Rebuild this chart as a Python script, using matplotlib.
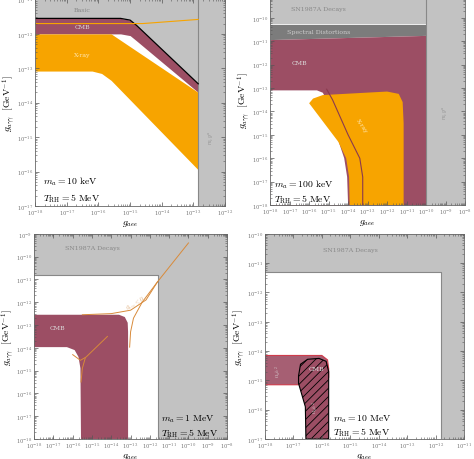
import numpy as np
import matplotlib
matplotlib.use("Agg")
import matplotlib.pyplot as plt
from matplotlib.ticker import LogLocator, NullFormatter

plt.rcParams['mathtext.fontset'] = 'cm'
plt.rcParams['font.family'] = ['DejaVu Serif']
plt.rcParams['hatch.linewidth'] = 0.6

GRAY = '#c2c2c2'; DGRAY = '#7c7c7c'; PURP = '#9c4e64'; ORNG = '#f7a400'

# ---------- data (log10 values) ----------
# Panel 1 (m_a = 10 keV)
p1_x = [-18, -15.3, -15.0, -14.8, -12.85]
p1_top = [-11.55, -11.55, -11.6, -11.75, -13.45]
p1_cmb_bot = [-12.0, -12.0, -12.05, -12.2, -13.7]
p1_xr_x = [-18, -16.2, -15.9, -15.6, -12.85]
p1_xr_bot = [-13.08, -13.08, -13.15, -13.35, -15.95]
p1_line_x = [-18, -14.6, -12.85]
p1_line_y = [-11.7, -11.7, -11.58]
p1_vcut = -12.85

# Panel 2 (m_a = 100 keV)
p2_sn = -10.28
p2_sd_x = [-18, -10]; p2_sd_y = [-10.93, -10.75]
p2_vcut = -10.0
p2_white = [(-18, -13.1), (-15.6, -13.1), (-15.3, -13.2), (-15.1, -13.5), (-14.6, -15.0),
            (-14.2, -16.0), (-14.05, -16.8), (-14.0, -18), (-18, -18)]
p2_xray = [(-16.0, -13.65), (-15.8, -13.45), (-15.3, -13.3), (-12.0, -13.15), (-11.4, -13.25),
           (-11.2, -13.6), (-11.15, -14.5), (-11.15, -18), (-13.92, -18), (-13.95, -16.8),
           (-14.1, -16.0), (-14.5, -15.3)]
p2_line = [(-15.1, -13.05), (-14.8, -13.5), (-14.0, -15.0), (-13.4, -16.0), (-13.25, -16.8), (-13.25, -18)]

# Panel 3 (m_a = 1 MeV)
p3_sn = -10.8
p3_vcut = -11.6
p3_cmb = [(-18, -12.55), (-13.6, -12.55), (-13.3, -12.65), (-13.15, -12.9), (-13.13, -13.3),
          (-13.13, -18), (-15.57, -18), (-15.6, -14.9), (-15.7, -14.4), (-15.9, -14.1),
          (-16.3, -13.97), (-18, -13.97)]
p3_lineA = [(-15.5, -12.55), (-14.0, -12.5), (-13.0, -12.35), (-12.2, -11.9), (-11.6, -11.1), (-10.0, -9.4)]
p3_lineB = [(-13.05, -13.97), (-13.0, -13.3), (-12.85, -12.7), (-12.4, -12.0), (-11.6, -11.1)]
p3_lineC = [(-16.0, -14.3), (-15.6, -14.55), (-15.3, -14.4), (-14.2, -13.5)]
p3_lineD = [(-15.35, -14.45), (-15.5, -14.9), (-15.57, -15.5)]

# Panel 4 (m_a = 10 MeV)
p4_sn = -11.31
p4_vcut = -11.82
p4_box = [(-18, -14.15), (-16.0, -14.15), (-15.8, -14.3), (-15.76, -14.6), (-15.76, -14.9),
          (-15.85, -15.1), (-16.0, -15.15), (-18, -15.15)]
p4_hatch = [(-16.82, -14.85), (-16.75, -14.45), (-16.5, -14.28), (-16.1, -14.25), (-15.85, -14.35),
            (-15.76, -14.7), (-15.76, -17), (-16.56, -17), (-16.58, -15.9), (-16.7, -15.5), (-16.82, -15.1)]


def P(pts):
    a = np.array(pts, float)
    return 10 ** a[:, 0], 10 ** a[:, 1]


def E(v):
    return 10 ** np.array(v, float)


def setup(ax, xl, yl):
    ax.set_xscale('log'); ax.set_yscale('log')
    ax.set_xlim(10 ** xl[0], 10 ** xl[1]); ax.set_ylim(10 ** yl[0], 10 ** yl[1])
    ax.xaxis.set_major_locator(LogLocator(base=10, numticks=20))
    ax.yaxis.set_major_locator(LogLocator(base=10, numticks=20))
    ax.xaxis.set_minor_locator(LogLocator(base=10, subs=np.arange(2, 10), numticks=200))
    ax.yaxis.set_minor_locator(LogLocator(base=10, subs=np.arange(2, 10), numticks=200))
    ax.xaxis.set_minor_formatter(NullFormatter()); ax.yaxis.set_minor_formatter(NullFormatter())
    ax.tick_params(which='both', direction='in', top=True, right=True, labelsize=3.8,
                   colors='#555555', labelcolor='#777777', pad=1.5)
    ax.tick_params(which='major', length=3, width=0.5)
    ax.tick_params(which='minor', length=1.5, width=0.4)
    for s in ax.spines.values():
        s.set_linewidth(0.6); s.set_color('#666666')
    ax.set_xlabel(r'$g_{aee}$', fontsize=7, labelpad=0.5)
    ax.set_ylabel(r'$g_{a\gamma\gamma}\ \ [\mathrm{GeV}^{-1}]$', fontsize=7, labelpad=0)
    ax.set_zorder(1)


fig = plt.figure(figsize=(4.74, 4.6), dpi=100)
ax1 = fig.add_axes([0.074, 0.55, 0.401, 0.449])
ax2 = fig.add_axes([0.570, 0.552, 0.411, 0.458])
ax3 = fig.add_axes([0.072, 0.0435, 0.407, 0.446])
ax4 = fig.add_axes([0.559, 0.0435, 0.420, 0.446])

# ---- panel 1
ax = ax1
setup(ax, (-18, -12), (-17, -11))
ax.fill_between(E(p1_x), E(p1_top), 1e-11, color=GRAY, lw=0)
ax.axvspan(10 ** p1_vcut, 1e-12, color=GRAY, lw=0)
ax.axvline(10 ** p1_vcut, color='#888888', lw=0.8)
ax.fill_between(E(p1_x), E(p1_cmb_bot), E(p1_top), color=PURP, lw=0)
ax.plot(E(p1_x), E(p1_top), color='black', lw=0.9)
ax.fill_between(E(p1_xr_x), E(p1_xr_bot), 10 ** np.interp(p1_xr_x, p1_x, p1_cmb_bot), color=ORNG, lw=0)
ax.plot(E(p1_line_x), E(p1_line_y), color=ORNG, lw=0.8)
ax.text(10 ** -16.5, 10 ** -11.3, 'Basic', color='#888888', fontsize=4.5, ha='center', va='center')
ax.text(10 ** -16.5, 10 ** -11.8, 'CMB', color='#dddddd', fontsize=4.5, ha='center', va='center')
ax.text(10 ** -16.5, 10 ** -12.6, 'X-ray', color='#ffe6b0', fontsize=4.5, ha='center', va='center')
ax.text(10 ** -12.45, 10 ** -15.0, r'$m_e y^a$', color='#888888', fontsize=4, rotation=90, ha='center', va='center')
ax.text(10 ** -17.75, 10 ** -16.35, r'$m_a = 10\ \mathrm{keV}$', fontsize=7)
ax.text(10 ** -17.75, 10 ** -16.85, r'$T_\mathrm{RH} = 5\ \mathrm{MeV}$', fontsize=7)

# ---- panel 2
ax = ax2
setup(ax, (-18, -8), (-18, -9))
ax.fill_between(E([-18, -10]), 10 ** p2_sn, 1e-9, color=GRAY, lw=0)
ax.axvspan(10 ** p2_vcut, 1e-8, color=GRAY, lw=0)
ax.axvline(10 ** p2_vcut, color='#888888', lw=0.8)
ax.fill_between(E(p2_sd_x), E(p2_sd_y), 10 ** p2_sn, color=DGRAY, lw=0)
ax.fill_between(E(p2_sd_x), 1e-18, E(p2_sd_y), color=PURP, lw=0)
x, y = P(p2_white); ax.fill(x, y, color='white', lw=0)
x, y = P(p2_xray); ax.fill(x, y, color=ORNG, lw=0)
x, y = P(p2_line); ax.plot(x, y, color='#8a3a4e', lw=0.8)
ax.text(10 ** -15.5, 10 ** -9.6, 'SN1987A Decays', color='#888888', fontsize=4.5, ha='center', va='center')
ax.text(10 ** -15.5, 10 ** -10.6, 'Spectral Distortions', color='#cccccc', fontsize=4.5, ha='center', va='center')
ax.text(10 ** -16.5, 10 ** -11.9, 'CMB', color='#dddddd', fontsize=4.5, ha='center', va='center')
ax.text(10 ** -13.3, 10 ** -14.6, 'X-ray', color='#ffe6b0', fontsize=4.5, ha='center', va='center', rotation=-55)
ax.text(10 ** -9.0, 10 ** -14.0, r'$m_e y^a$', color='#888888', fontsize=4, rotation=90, ha='center', va='center')
ax.text(10 ** -17.8, 10 ** -17.2, r'$m_a = 100\ \mathrm{keV}$', fontsize=7)
ax.text(10 ** -17.8, 10 ** -17.85, r'$T_\mathrm{RH} = 5\ \mathrm{MeV}$', fontsize=7)

# ---- panel 3
ax = ax3
setup(ax, (-18, -8), (-18, -9))
ax.axhspan(10 ** p3_sn, 1e-9, color=GRAY, lw=0)
ax.axvspan(10 ** p3_vcut, 1e-8, color=GRAY, lw=0)
ax.plot([1e-18, 10 ** p3_vcut, 10 ** p3_vcut], [10 ** p3_sn, 10 ** p3_sn, 1e-18], color='#888888', lw=0.8)
x, y = P(p3_cmb); ax.fill(x, y, color=PURP, lw=0)
for L in (p3_lineA, p3_lineB, p3_lineC, p3_lineD):
    x, y = P(L); ax.plot(x, y, color='#d88a3a', lw=0.7)
ax.text(10 ** -12.75, 10 ** -12.05, r'$g_{aee} < 0$', color='#e0b080', fontsize=4.5, rotation=25, ha='center', va='center')
ax.text(10 ** -15.0, 10 ** -9.6, 'SN1987A Decays', color='#888888', fontsize=4.5, ha='center', va='center')
ax.text(10 ** -16.8, 10 ** -13.1, 'CMB', color='#dddddd', fontsize=4.5, ha='center', va='center')
ax.text(10 ** -11.4, 10 ** -17.2, r'$m_a = 1\ \mathrm{MeV}$', fontsize=7)
ax.text(10 ** -11.4, 10 ** -17.85, r'$T_\mathrm{RH} = 5\ \mathrm{MeV}$', fontsize=7)

# ---- panel 4
ax = ax4
setup(ax, (-18, -11), (-17, -10))
ax.axhspan(10 ** p4_sn, 1e-10, color=GRAY, lw=0)
ax.axvspan(10 ** p4_vcut, 1e-11, color=GRAY, lw=0)
ax.plot([1e-18, 10 ** p4_vcut, 10 ** p4_vcut], [10 ** p4_sn, 10 ** p4_sn, 1e-17], color='#888888', lw=0.8)
x, y = P(p4_box); ax.fill(x, y, facecolor=PURP, edgecolor='#d03040', lw=0.8, alpha=0.9)
x, y = P(p4_hatch); ax.fill(x, y, facecolor=PURP, edgecolor='black', hatch='////', lw=0.8)
ax.text(10 ** -15.0, 10 ** -10.55, 'SN1987A Decays', color='#888888', fontsize=4.5, ha='center', va='center')
ax.text(10 ** -16.2, 10 ** -14.6, 'CMB', color='#dddddd', fontsize=4.5, ha='center', va='center')
ax.text(10 ** -17.5, 10 ** -14.65, r'$\Omega_a h^2$', color='#dddddd', fontsize=3.5, rotation=90, ha='center', va='center')
ax.text(10 ** -16.2, 10 ** -15.9, r'$\Omega_a h^2$', color='#dddddd', fontsize=3.5, rotation=90, ha='center', va='center')
ax.text(10 ** -15.6, 10 ** -16.35, r'$m_a = 10\ \mathrm{MeV}$', fontsize=7)
ax.text(10 ** -15.6, 10 ** -16.85, r'$T_\mathrm{RH} = 5\ \mathrm{MeV}$', fontsize=7)

fig.savefig('out.png', dpi=100)
